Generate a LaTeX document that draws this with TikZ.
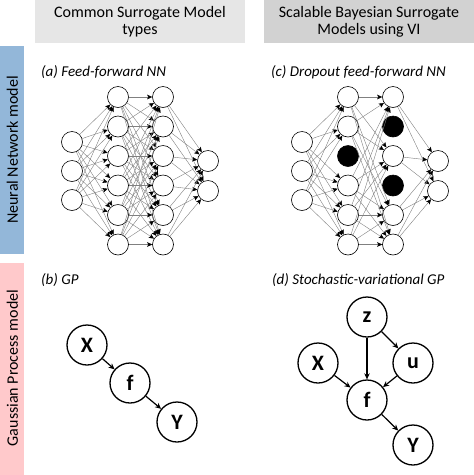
\documentclass[tikz,border=0pt]{standalone}
\usepackage{fontspec}
\setmainfont{Carlito}
\usetikzlibrary{arrows.meta}

\definecolor{hdrlight}{HTML}{E6E6E6}
\definecolor{hdrdark}{HTML}{D2D2D2}
\definecolor{nnblue}{HTML}{93B7D9}
\definecolor{gppink}{HTML}{FFC9CB}

\begin{document}
\begin{tikzpicture}[x=1pt,y=-1pt,
  unit/.style={circle,draw,line width=0.6pt,fill=white,minimum size=21pt,inner sep=0pt},
  dropped/.style={unit,fill=black},
  link/.style={draw=gray,line width=0.4pt,-{Stealth[length=5pt,width=4.6pt,inset=1pt,black]}},
  gpnode/.style={circle,draw,line width=1.3pt,minimum size=40pt,inner sep=0pt,font=\fontsize{22}{22}\selectfont\bfseries},
  gplink/.style={line width=1.2pt,-{Stealth[length=6pt,width=5.5pt]}},
  hdr/.style={align=center,font=\fontsize{16}{17}\selectfont},
  sidelabel/.style={rotate=90,font=\fontsize{16}{18}\selectfont},
  panel/.style={anchor=base west,inner sep=0pt,font=\fontsize{15}{17}\selectfont\itshape}]
  \useasboundingbox (0,0) rectangle (474,475);
  % column headers
  \fill[hdrlight] (35,0) rectangle (245,43);
  \fill[hdrdark] (264,0) rectangle (474,43);
  \node[hdr] (hleft) at (140,21.5) {Common Surrogate Model\\types};
  \node[hdr] (hright) at (369,21.5) {Scalable Bayesian Surrogate\\Models using VI};
  % row bars
  \fill[nnblue] (0,46) rectangle (24,254);
  \fill[gppink] (0,263) rectangle (24,475);
  \node[sidelabel] (rownn) at (12.5,150) {Neural Network model};
  \node[sidelabel] (rowgp) at (12.5,368) {Gaussian Process model};
  % panel titles
  \node[panel] (ta) at (41,76) {(a) Feed-forward NN};
  \node[panel] (tc) at (271,76) {(c) Dropout feed-forward NN};
  \node[panel] (tb) at (41,284) {(b) GP};
  \node[panel] (td) at (272,284) {(d) Stochastic-variational GP};

  % (a) feed-forward net
  \foreach \i/\y in {1/142,2/171,3/200} \node[unit] (a-in\i) at (72,\y) {};
  \foreach \i in {1,...,6} {
    \node[unit] (a-h\i) at (118,97+29.5*\i-29.5) {};
    \node[unit] (a-k\i) at (163,97+29.5*\i-29.5) {};
  }
  \foreach \i/\y in {1/161,2/191} \node[unit] (a-out\i) at (208,\y) {};
  \foreach \i in {1,2,3} \foreach \j in {1,...,6} \draw[link] (a-in\i) -- (a-h\j);
  \foreach \i in {1,...,6} \foreach \j in {1,...,6} \draw[link] (a-h\i) -- (a-k\j);
  \foreach \i in {1,...,6} \foreach \j in {1,2} \draw[link] (a-k\i) -- (a-out\j);

  % (c) same net with dropped units
  \foreach \i/\y in {1/142,2/171,3/200} \node[unit] (c-in\i) at (302,\y) {};
  \foreach \i in {1,2,4,5,6} \node[unit] (c-h\i) at (348,97+29.5*\i-29.5) {};
  \foreach \i in {1,3,5,6} \node[unit] (c-k\i) at (393,97+29.5*\i-29.5) {};
  \node[dropped] (c-h3) at (348,156) {};
  \node[dropped] (c-k2) at (393,126.5) {};
  \node[dropped] (c-k4) at (393,185.5) {};
  \foreach \i/\y in {1/161,2/191} \node[unit] (c-out\i) at (438,\y) {};
  \foreach \i in {1,2,3} \foreach \j in {1,2,4,5,6} \draw[link] (c-in\i) -- (c-h\j);
  \foreach \i in {1,2,4,5,6} \foreach \j in {1,3,5,6} \draw[link] (c-h\i) -- (c-k\j);
  \foreach \i in {1,3,5,6} \foreach \j in {1,2} \draw[link] (c-k\i) -- (c-out\j);

  % (b) GP
  \node[gpnode] (bX) at (87,345) {X};
  \node[gpnode] (bf) at (130,383) {f};
  \node[gpnode] (bY) at (177,422) {Y};
  \draw[gplink] (bX) -- (bf);
  \draw[gplink] (bf) -- (bY);

  % (d) SVGP
  \node[gpnode] (dz) at (367,317) {z};
  \node[gpnode] (dX) at (318,363) {X};
  \node[gpnode] (du) at (413,363) {u};
  \node[gpnode] (df) at (367,400) {f};
  \node[gpnode] (dY) at (413,445) {Y};
  \draw[gplink] (dz) -- (df);
  \draw[gplink] (dz) -- (du);
  \draw[gplink] (dX) -- (df);
  \draw[gplink] (du) -- (df);
  \draw[gplink] (df) -- (dY);
\end{tikzpicture}
\end{document}
